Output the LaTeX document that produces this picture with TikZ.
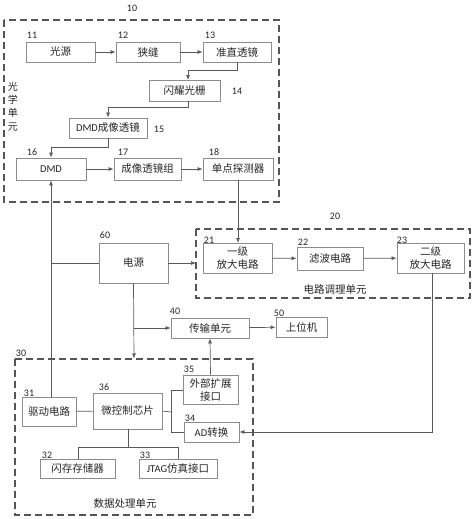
\documentclass[tikz,border=0pt]{standalone}
\usepackage{fontspec}
\setmainfont{Carlito}
\newfontfamily\cjk{Noto Sans CJK SC}
\usetikzlibrary{arrows.meta}
\definecolor{boxc}{HTML}{8C8C8C}
\definecolor{linec}{HTML}{5A5A5A}
\definecolor{dashc}{HTML}{555555}
\begin{document}
\begin{tikzpicture}[x=1pt,y=-1pt,
  box/.style={draw=boxc,line width=0.8pt,rectangle,inner sep=0pt,align=center,font=\fontsize{10.5}{12}\selectfont\cjk,text=black!85},
  grp/.style={draw=dashc,line width=1.1pt,dash pattern=on 7pt off 4pt},
  num/.style={font=\fontsize{10}{11}\selectfont,text=black!85,inner sep=0pt},
  lab/.style={font=\fontsize{10.5}{12}\selectfont\cjk,text=black!85,inner sep=0pt},
  con/.style={draw=linec,line width=0.7pt},
  arr/.style={con,-{Latex[length=5pt,width=4pt]}}]
\useasboundingbox (0,0) rectangle (474,519);
% group boxes
\draw[grp] (4,20) rectangle (279,202);
\draw[grp] (196,229) rectangle (470,298);
\draw[grp] (15,359) rectangle (253,515);
\node[num] (n10) at (132,8) {10};
\node[num] (n20) at (335,216) {20};
\node[num] (n30) at (21,353) {30};
\node[lab,align=center,font=\fontsize{10}{13.3}\selectfont\cjk] (g10) at (13,106.5) {光\\学\\单\\元};
\node[lab] (g20) at (335,289) {电路调理单元};
\node[lab] (g30) at (125,504) {数据处理单元};
% optical unit
\node[box,minimum width=69,minimum height=20] (a11) at (60.5,52) {光源};
\node[box,minimum width=64,minimum height=20] (a12) at (148,52) {狭缝};
\node[box,minimum width=68,minimum height=20] (a13) at (237,52) {准直透镜};
\node[box,minimum width=71,minimum height=21] (a14) at (184.5,90.5) {闪耀光栅};
\node[box,minimum width=78,minimum height=20] (a15) at (108,128) {{\rmfamily DMD}成像透镜};
\node[box,minimum width=70,minimum height=22,font=\fontsize{10.5}{12}\selectfont] (a16) at (51,169) {DMD};
\node[box,minimum width=67,minimum height=22] (a17) at (147.5,169) {成像透镜组};
\node[box,minimum width=70,minimum height=22] (a18) at (238,169) {单点探测器};
\node[num] (n11) at (32,35) {11};
\node[num] (n12) at (123,35) {12};
\node[num] (n13) at (210,35) {13};
\node[num] (n14) at (237,91) {14};
\node[num] (n15) at (159,129) {15};
\node[num] (n16) at (32,152) {16};
\node[num] (n17) at (123,152) {17};
\node[num] (n18) at (214,152) {18};
% circuit unit
\node[box,minimum width=69,minimum height=30,font=\fontsize{10.5}{13}\selectfont\cjk] (b21) at (237.5,258) {一级\\放大电路};
\node[box,minimum width=66,minimum height=23] (b22) at (330,258.5) {滤波电路};
\node[box,minimum width=67,minimum height=30,font=\fontsize{10.5}{13}\selectfont\cjk] (b23) at (430.5,258) {二级\\放大电路};
\node[num] (n21) at (209,240) {21};
\node[num] (n22) at (303,242) {22};
\node[num] (n23) at (402,240) {23};
% power, transmission, host
\node[box,minimum width=69,minimum height=40] (p60) at (133.5,263) {电源};
\node[box,minimum width=78,minimum height=20] (t40) at (210,328) {传输单元};
\node[box,minimum width=51,minimum height=20] (u50) at (301.5,327) {上位机};
\node[num] (n60) at (105,235) {60};
\node[num] (n40) at (175,311) {40};
\node[num] (n50) at (279,313) {50};
% data processing unit
\node[box,minimum width=54,minimum height=29] (d31) at (49,411.5) {驱动电路};
\node[box,minimum width=69,minimum height=36] (d36) at (127.5,411) {微控制芯片};
\node[box,minimum width=55,minimum height=29,font=\fontsize{10.5}{13}\selectfont\cjk] (d35) at (210.5,389.5) {外部扩展\\接口};
\node[box,minimum width=55,minimum height=20] (d34) at (211.5,432) {{\rmfamily AD}转换};
\node[box,minimum width=75,minimum height=19] (d32) at (77.5,468.5) {闪存存储器};
\node[box,minimum width=78,minimum height=19] (d33) at (178,468.5) {{\rmfamily JTAG}仿真接口};
\node[num] (n31) at (29,393) {31};
\node[num] (n36) at (104,387) {36};
\node[num] (n35) at (189,369) {35};
\node[num] (n34) at (190,418) {34};
\node[num] (n32) at (47,455) {32};
\node[num] (n33) at (145,455) {33};
% coordinates
\coordinate (e20) at (196,263);
\coordinate (e30) at (134,358.5);
\coordinate (j1) at (51,263);
\coordinate (j2) at (134,328);
\coordinate (k1) at (171,390);
\coordinate (k2) at (171,432);
\coordinate (k3) at (171,412);
\coordinate (m1) at (78,447);
\coordinate (m2) at (178,447);
\coordinate (m3) at (128,447);
% connectors optical
\draw[arr] (a11) -- (a12);
\draw[arr] (a12) -- (a13);
\draw[arr] (a13.south) -- (237,70) -- (188,70) -- (188,80);
\draw[arr] (188,101) -- (188,107) -- (108,107) -- (a15.north);
\draw[arr] (a15.south) -- (108,147) -- (51,147) -- (a16.north);
\draw[arr] (a16) -- (a17);
\draw[arr] (a17) -- (a18);
\draw[arr] (a18.south) -- (238,243);
% circuit
\draw[arr] (b21) -- (b22);
\draw[arr] (b22) -- (b23);
\draw[arr] (432,273) -- (432,432) -- (d34.east);
% DMD drive
\draw[arr] (d31.north -| a16.south) -- (a16.south);
\draw[con] (j1) -- (p60.west);
\draw[arr] (p60.east) -- (e20);
\draw[arr] (p60.south) -- (e30);
\draw[arr] (j2) -- (t40.west);
\draw[arr] (t40) -- (u50);
\draw[arr] (d35.north) -- (t40.south);
% data unit
\draw[con] (d31) -- (d36);
\draw[con] (d36.east) -- (k3);
\draw[con] (k1) -- (k2);
\draw[con] (k1) -- (d35.west |- k1);
\draw[con] (k2) -- (d34.west);
\draw[con] (d36.south -| m3) -- (m3);
\draw[con] (m1) -- (m2);
\draw[con] (m1) -- (d32.north -| m1);
\draw[con] (m2) -- (d33.north -| m2);
\end{tikzpicture}
\end{document}
